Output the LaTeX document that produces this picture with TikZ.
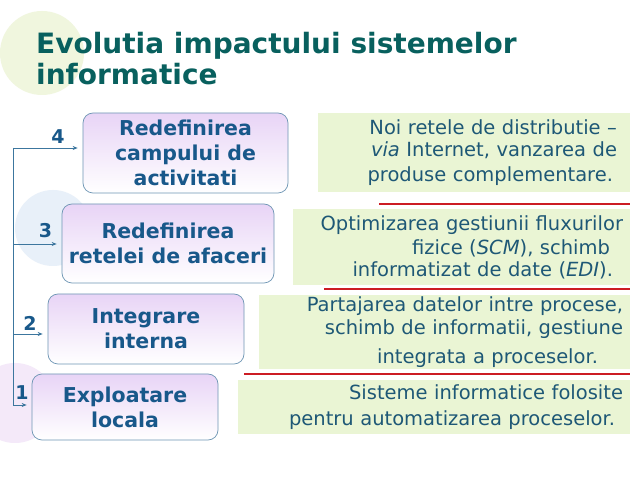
\documentclass[tikz,border=0pt]{standalone}
\usepackage{fontspec}
\setmainfont{DejaVu Sans}
\usetikzlibrary{arrows.meta}

\definecolor{titleteal}{RGB}{8,96,94}
\definecolor{boxblue}{RGB}{24,88,138}
\definecolor{notetext}{RGB}{30,88,118}
\definecolor{boxedge}{RGB}{110,150,180}
\definecolor{boxtop}{RGB}{232,212,246}
\definecolor{notegreen}{RGB}{234,245,212}
\definecolor{sepred}{RGB}{204,28,36}
\definecolor{spineblue}{RGB}{60,118,158}
\definecolor{decogreen}{RGB}{240,246,222}
\definecolor{decoblue}{RGB}{232,240,249}
\definecolor{decopurple}{RGB}{244,233,249}

\begin{document}
\begin{tikzpicture}[x=1pt,y=-1pt,
  stagebox/.style={draw=boxedge,line width=0.7pt,rounded corners=10pt,top color=boxtop,bottom color=white,
    align=center,text=boxblue,font=\fontsize{20.5}{25}\selectfont\bfseries,inner sep=0pt},
  notebox/.style={fill=notegreen,align=right,text=notetext,font=\fontsize{19.5}{23}\selectfont,
    inner xsep=7pt,inner ysep=0pt},
  stagenum/.style={text=boxblue,font=\fontsize{19}{19}\selectfont\bfseries,inner sep=0pt},
  redline/.style={draw=sepred,line width=2pt},
  spine/.style={draw=spineblue,line width=0.8pt},
  ]

% Draw the page and the faint background flowers
\fill[white] (0,0) rectangle (638,478);
\useasboundingbox (0,0) rectangle (638,478);
\fill[decogreen] (42,53) circle (42);
\fill[decoblue] (53,228) circle (38);
\fill[decopurple] (15,403) circle (40);

% Draw the title
\node[anchor=north west,inner sep=0pt,align=left,text=titleteal,font=\fontsize{28}{31}\selectfont\bfseries]
  (title) at (36,32) {Evolutia impactului sistemelor\\informatice};

% Draw the four stages
\node[stagebox,minimum width=205pt,minimum height=80pt] (b4) at (185.5,153) {Redefinirea\\campului de\\activitati};
\node[stagebox,minimum width=212pt,minimum height=79pt] (b3) at (168,243.5) {Redefinirea\\retelei de afaceri};
\node[stagebox,minimum width=196pt,minimum height=70pt] (b2) at (146,329) {Integrare\\interna};
\node[stagebox,minimum width=186pt,minimum height=66pt] (b1) at (125,407) {Exploatare\\locala};

% Draw the notes on the right
\node[notebox,text width=298pt,minimum height=79pt] (g4) at (474,152.5)
  {Noi retele de distributie --\kern6pt\\[-1pt] \emph{via} Internet, vanzarea de\kern6pt\\[2pt] produse complementare.\kern10pt};
\node[notebox,text width=323pt,minimum height=76pt] (g3) at (461.5,247)
  {Optimizarea gestiunii fluxurilor\\[1pt] fizice (\emph{SCM}), schimb\kern13pt\\[-1pt] informatizat de date (\emph{EDI}).\kern10pt};
\node[notebox,text width=357pt,minimum height=74pt] (g2) at (444.5,332)
  {Partajarea datelor intre procese,\\ schimb de informatii, gestiune\\[6pt] integrata a proceselor.\kern25pt};
\node[notebox,text width=378pt,minimum height=54pt] (g1) at (434,407)
  {Sisteme informatice folosite\\[3pt] pentru automatizarea proceselor.\kern8pt};

% Draw the red separators
\draw[redline] (379,204) -- (630,204);
\draw[redline] (324,289) -- (630,289);
\draw[redline] (244,374) -- (630,374);

% Draw the spine and the arrows into the stages
\coordinate (s4) at (13,148);
\coordinate (s3) at (13,244);
\coordinate (s2) at (13,334);
\coordinate (s1) at (13,405);
\draw[spine] (s4) -- (s1);
\foreach \k in {1,...,4} {
    \draw[spine,-{Stealth[length=5pt,width=4pt]},shorten >=5pt] (s\k) -- (s\k -| b\k.west);
}

% Draw the stage numbers
\node[stagenum] (n4) at (58,137) {4};
\node[stagenum] (n3) at (45.5,230.5) {3};
\node[stagenum] (n2) at (30,323) {2};
\node[stagenum] (n1) at (22,393) {1};

\end{tikzpicture}
\end{document}
